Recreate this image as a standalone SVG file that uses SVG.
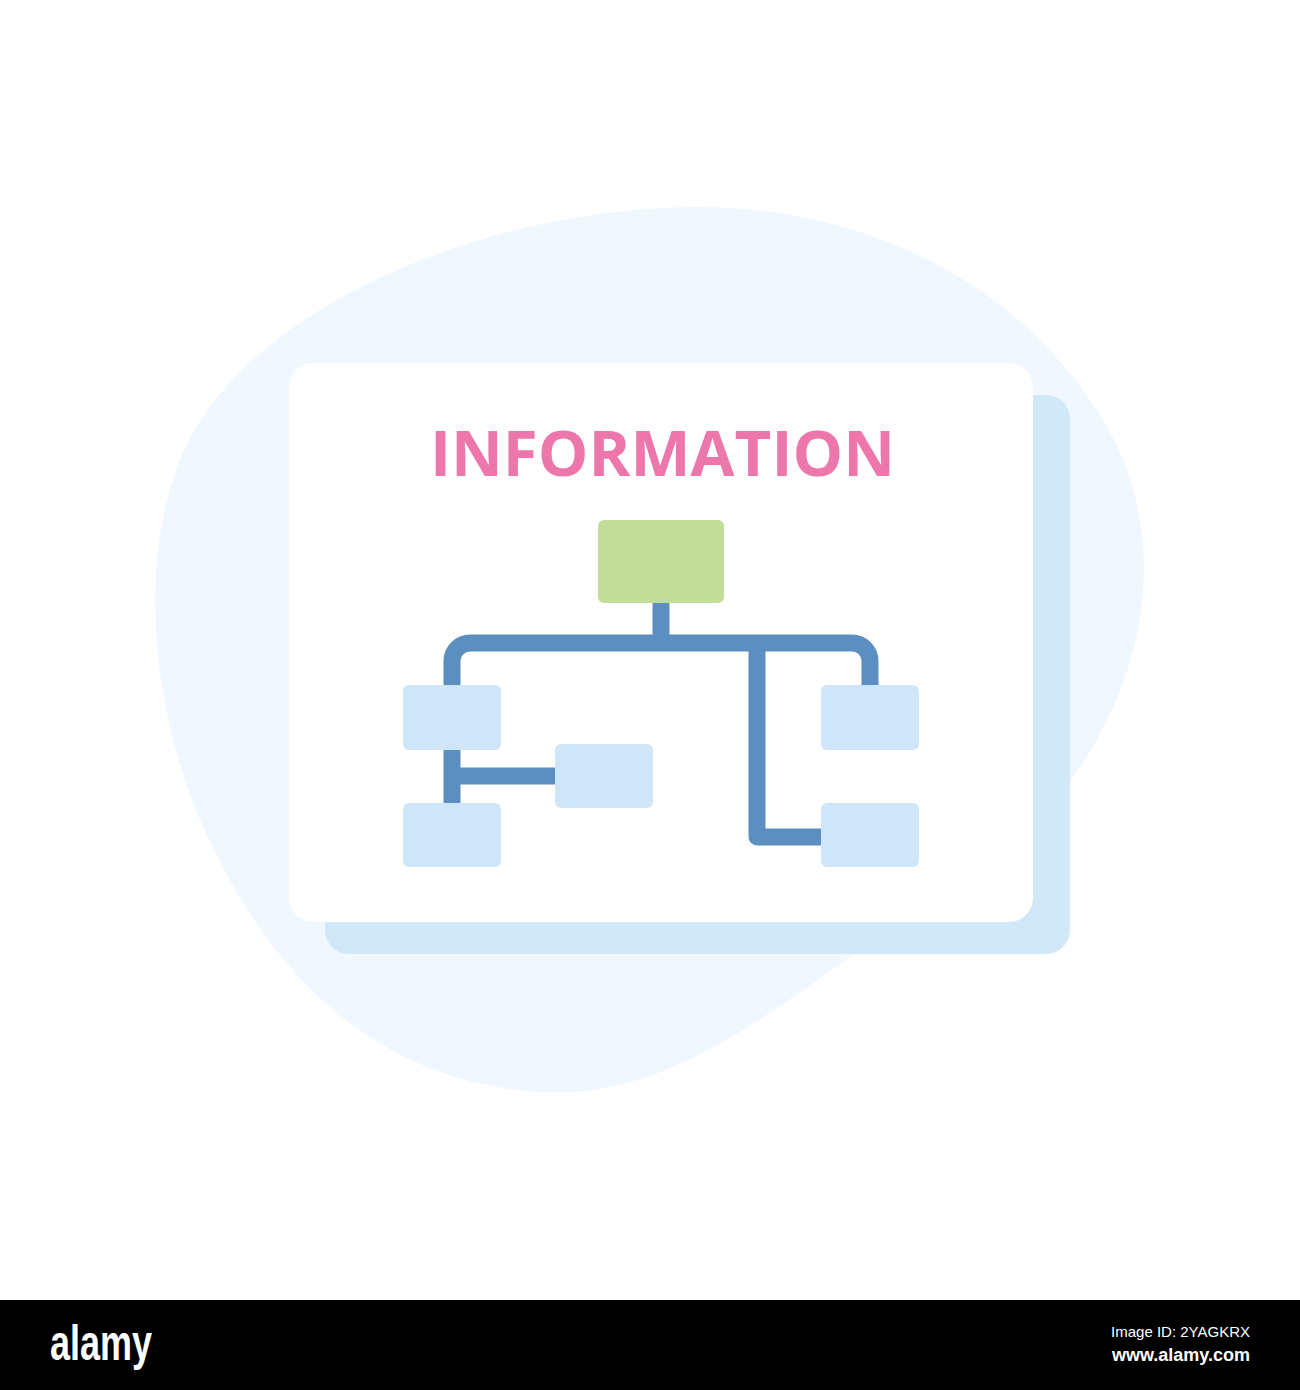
<svg xmlns="http://www.w3.org/2000/svg" width="1300" height="1390" viewBox="0 0 1300 1390">
  <style>
    .node { fill: #cfe6f8; }
    .root { fill: #c1dd98; }
    .conn { fill: none; stroke: #5b8fc0; stroke-width: 17; stroke-linejoin: round; }
    .title { font-family: "Open Sans", "Noto Sans", sans-serif; font-weight: 700; fill: #ed77ab; }
    .foot { font-family: "Liberation Sans", "DejaVu Sans", sans-serif; fill: #ffffff; }
  </style>
  <rect x="0" y="0" width="1300" height="1390" fill="#ffffff"/>
  <path id="blob" fill="#f0f7fe" d="M 690 207 C 850 205 1000 270 1090 400 C 1165 505 1160 640 1085 760 C 1025 850 940 900 860 950 C 760 1020 660 1100 540 1092 C 380 1082 270 980 200 820 C 150 700 140 560 180 460 C 240 310 480 210 690 207 Z"/>
  <rect id="card-shadow" x="325" y="395" width="745" height="559" rx="24" fill="#d1e8f9"/>
  <rect id="card" x="289" y="363" width="744" height="559" rx="24" fill="#ffffff"/>
  <text class="title" x="430" y="476" font-size="62" textLength="465" lengthAdjust="spacingAndGlyphs">INFORMATION</text>
  <g id="connectors">
    <path class="conn" d="M 661 603 V 643"/>
    <path class="conn" d="M 452 686 V 661 A 18 18 0 0 1 470 643 H 852 A 18 18 0 0 1 870 661 V 686"/>
    <path class="conn" d="M 757 643 V 837 H 822"/>
    <path class="conn" d="M 452 749 V 804"/>
    <path class="conn" d="M 452 776 H 555"/>
  </g>
  <g id="node-root"><rect class="root" x="598" y="520" width="126" height="83" rx="6"/></g>
  <g id="node-left-top"><rect class="node" x="403" y="685" width="98" height="65" rx="6"/></g>
  <g id="node-middle"><rect class="node" x="555" y="744" width="98" height="64" rx="6"/></g>
  <g id="node-left-bottom"><rect class="node" x="403" y="803" width="98" height="64" rx="6"/></g>
  <g id="node-right-top"><rect class="node" x="821" y="685" width="98" height="65" rx="6"/></g>
  <g id="node-right-bottom"><rect class="node" x="821" y="803" width="98" height="64" rx="6"/></g>
  <rect x="0" y="1300" width="1300" height="90" fill="#000000"/>
  <text class="foot" x="50" y="1360" font-size="50" font-weight="700" textLength="102" lengthAdjust="spacingAndGlyphs">alamy</text>
  <text class="foot" x="1250" y="1337" font-size="15" text-anchor="end">Image ID: 2YAGKRX</text>
  <text class="foot" x="1250" y="1361" font-size="18" font-weight="700" text-anchor="end">www.alamy.com</text>
</svg>
